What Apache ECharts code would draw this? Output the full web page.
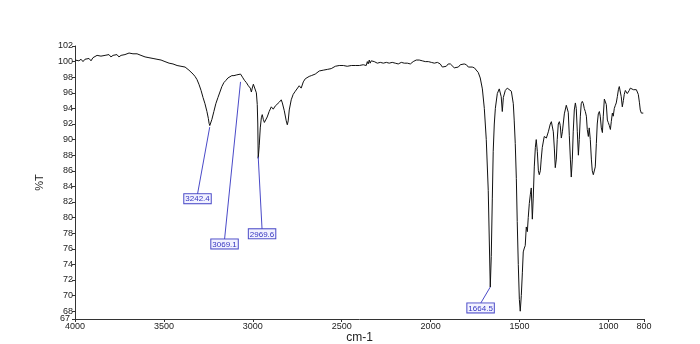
<!DOCTYPE html>
<html>
<head>
<meta charset="utf-8">
<script src="https://cdn.jsdelivr.net/npm/echarts@6/dist/echarts.min.js"></script>
<style>
  html, body { margin: 0; padding: 0; background: #fff; }
  #chart { width: 700px; height: 344px; }
</style>
</head>
<body>
<div id="chart"></div>
<script>
// spectrum (wavenumber in cm-1, transmittance in %T)
const wavenumbers = [
  4000, 3989, 3978, 3966, 3955, 3944, 3933, 3921, 3910, 3899, 3888, 3876, 3865, 3854, 3843, 3831,
  3820, 3809, 3798, 3786, 3775, 3764, 3753, 3741, 3730, 3719, 3708, 3696, 3685, 3674, 3663, 3651,
  3640, 3629, 3618, 3606, 3595, 3584, 3573, 3561, 3550, 3539, 3528, 3516, 3505, 3494, 3483, 3471,
  3460, 3449, 3438, 3426, 3415, 3404, 3393, 3381, 3370, 3359, 3348, 3336, 3325, 3314, 3303, 3291,
  3280, 3269, 3258, 3250, 3246, 3242, 3236, 3230, 3219, 3208, 3196, 3185, 3174, 3163, 3151, 3140,
  3129, 3118, 3106, 3090, 3080, 3069, 3058, 3047, 3036, 3025, 3014, 3008, 3003, 2997, 2991, 2986,
  2980, 2975, 2972, 2969.6, 2964, 2958, 2952, 2947, 2941, 2935, 2930, 2919, 2908, 2896, 2885, 2874,
  2863, 2851, 2840, 2834, 2823, 2812, 2806, 2801, 2795, 2784, 2773, 2761, 2750, 2739, 2728, 2716,
  2705, 2694, 2683, 2671, 2660, 2649, 2638, 2626, 2615, 2604, 2593, 2581, 2570, 2559, 2548, 2536,
  2525, 2514, 2503, 2491, 2480, 2469, 2458, 2446, 2435, 2424, 2413, 2401, 2390, 2379, 2368, 2362,
  2356, 2351, 2345, 2340, 2334, 2328, 2317, 2300, 2283, 2266, 2249, 2233, 2216, 2199, 2182, 2165,
  2148, 2131, 2114, 2098, 2081, 2064, 2047, 2030, 2013, 1996, 1979, 1962, 1946, 1934, 1923, 1912,
  1901, 1889, 1878, 1867, 1856, 1844, 1833, 1822, 1811, 1799, 1788, 1777, 1766, 1754, 1743, 1732,
  1721, 1709, 1698, 1687, 1676, 1670, 1664.5, 1659, 1653, 1648, 1642, 1636, 1625, 1614, 1608, 1603,
  1597, 1591, 1580, 1569, 1558, 1546, 1535, 1530, 1524, 1518, 1513, 1507, 1501, 1496, 1490, 1484,
  1479, 1473, 1468, 1462, 1456, 1451, 1445, 1439, 1434, 1428, 1423, 1417, 1411, 1406, 1400, 1394,
  1389, 1383, 1378, 1372, 1361, 1349, 1338, 1327, 1321, 1310, 1304, 1299, 1293, 1288, 1282, 1276,
  1271, 1265, 1259, 1248, 1237, 1231, 1226, 1220, 1214, 1209, 1203, 1198, 1192, 1186, 1181, 1175,
  1169, 1164, 1158, 1153, 1147, 1141, 1136, 1130, 1124, 1119, 1113, 1108, 1102, 1096, 1091, 1085,
  1079, 1074, 1068, 1063, 1057, 1051, 1046, 1040, 1034, 1029, 1023, 1018, 1012, 1006, 1001, 995,
  989, 984, 978, 973, 967, 961, 956, 950, 944, 939, 933, 928, 922, 916, 911, 905,
  899, 894, 888, 883, 877, 871, 866, 860, 854, 849, 843, 838, 832, 826, 821, 815,
  810, 804
];
const transmittance = [
  100.2, 100.4, 100.1, 100.3, 100.0, 100.3, 100.2, 100.4, 100.1, 100.5, 100.4, 100.8, 100.6, 100.7, 100.5, 100.8,
  100.6, 100.9, 100.6, 100.8, 100.7, 100.9, 100.6, 100.8, 100.7, 100.9, 100.8, 101.1, 100.9, 101.0, 100.8, 101.0,
  100.9, 100.8, 100.9, 100.6, 100.7, 100.5, 100.6, 100.4, 100.5, 100.3, 100.4, 100.2, 100.3, 100.0, 100.1, 99.8,
  99.9, 99.7, 99.8, 99.5, 99.6, 99.4, 99.5, 99.3, 99.1, 98.9, 98.7, 98.4, 98.1, 97.7, 97.1, 96.3,
  95.4, 94.6, 93.6, 92.7, 92.1, 91.8, 92.0, 92.6, 93.6, 94.6, 95.4, 96.1, 96.8, 97.3, 97.6, 97.9,
  98.1, 98.2, 98.2, 98.3, 98.5, 98.4, 98.0, 97.6, 97.3, 96.9, 96.6, 96.1, 96.6, 97.1, 97.2, 96.9,
  96.0, 94.5, 92.0, 87.6, 89.2, 91.5, 92.8, 93.2, 92.6, 92.2, 92.3, 92.9, 93.6, 94.2, 93.9, 94.3,
  94.5, 94.8, 95.1, 94.7, 93.7, 92.4, 91.9, 92.4, 93.8, 95.1, 95.8, 96.2, 96.4, 96.9, 96.6, 97.4,
  97.8, 97.9, 98.1, 98.2, 98.4, 98.4, 98.6, 98.8, 98.7, 98.9, 99.0, 99.0, 99.2, 99.1, 99.3, 99.4,
  99.4, 99.5, 99.6, 99.5, 99.6, 99.4, 99.4, 99.5, 99.4, 99.5, 99.6, 99.5, 99.7, 99.6, 99.8, 99.5,
  100.0, 99.7, 100.2, 99.8, 100.1, 99.9, 100.0, 99.8, 99.9, 99.8, 99.9, 99.8, 99.9, 99.8, 99.7, 99.9,
  99.8, 99.8, 99.7, 100.0, 100.2, 100.2, 100.1, 100.0, 100.0, 99.9, 99.8, 99.9, 99.7, 99.3, 99.1, 99.4,
  99.7, 99.7, 99.5, 99.2, 99.0, 99.3, 99.6, 99.7, 99.7, 99.6, 99.3, 99.2, 99.3, 99.2, 99.0, 98.6,
  97.9, 96.5, 94.0, 90.0, 83.5, 77.0, 71.1, 75.0, 82.5, 88.5, 92.0, 94.0, 95.9, 96.5, 96.4, 95.5,
  93.6, 95.4, 96.3, 96.6, 96.6, 96.2, 94.6, 92.5, 89.5, 85.0, 79.5, 74.0, 69.5, 68.0, 70.0, 73.0,
  75.6, 76.1, 76.4, 78.8, 78.2, 80.0, 81.8, 83.0, 83.8, 79.8, 82.5, 86.5, 89.0, 90.0, 88.5, 86.0,
  85.5, 86.0, 87.5, 89.0, 90.4, 90.2, 91.0, 92.0, 92.3, 91.0, 88.8, 86.4, 87.5, 90.0, 92.0, 92.3,
  91.8, 90.2, 91.0, 93.3, 94.4, 94.4, 93.5, 90.5, 87.5, 85.2, 87.5, 91.0, 93.8, 94.7, 94.0, 91.0,
  88.0, 90.0, 93.0, 94.6, 94.9, 94.6, 94.0, 93.6, 93.0, 91.3, 90.4, 91.5, 90.0, 87.5, 86.0, 85.5,
  85.3, 86.5, 89.5, 92.0, 93.3, 93.6, 93.0, 91.5, 90.9, 93.0, 95.2, 95.4, 94.5, 92.5, 92.2, 91.8,
  91.3, 92.3, 93.4, 93.0, 94.0, 94.4, 94.7, 95.5, 96.4, 96.8, 96.6, 95.5, 94.2, 95.0, 95.8, 96.3,
  96.4, 95.9, 95.8, 96.3, 96.6, 96.5, 96.6, 96.4, 96.5, 96.3, 96.4, 96.2, 95.8, 94.8, 93.8, 93.4,
  93.5, 93.4
];

// peak labels: where the leader starts and where its box sits
const peakLabels = ['3242.4', '3069.1', '2969.6', '1664.5'];
const peakX = [3242.4, 3069.1, 2969.6, 1664.5];
const peakY = [91.6, 97.4, 87.8, 71.1];
const boxX = [3311, 3159, 2948, 1719];
const boxY = [83.0, 77.2, 78.5, 69.0];

const xTicks = [4000, 3500, 3000, 2500, 2000, 1500, 1000, 800];
const yTicks = [67, 68, 70, 72, 74, 76, 78, 80, 82, 84, 86, 88, 90, 92, 94, 96, 98, 100, 102];
const yLabels = [68, 70, 72, 74, 76, 78, 80, 82, 84, 86, 88, 90, 92, 94, 96, 98, 100, 102];
const yMinLabel = [67];

const chart = echarts.init(document.getElementById('chart'));

const spectrum = wavenumbers.map((w, i) => [w, transmittance[i]]);
const peaks = peakLabels.map((t, i) => [peakX[i], peakY[i], boxX[i], boxY[i], t]);

const font = 'Liberation Sans, Arial, sans-serif';
const labelStyle = { color: '#222', fontSize: 9, fontFamily: font, hideOverlap: false, formatter: (v) => String(v) };

chart.setOption({
  animation: false,
  backgroundColor: '#fff',
  grid: { left: 75, right: 56, top: 46, bottom: 25, containLabel: false, outerBoundsMode: 'none' },
  xAxis: {
    type: 'value',
    inverse: true,
    min: 800,
    max: 4000,
    name: 'cm-1',
    nameLocation: 'middle',
    nameGap: 13,
    nameMoveOverlap: false,
    nameTextStyle: { color: '#222', fontSize: 12, fontFamily: font },
    axisLine: { lineStyle: { color: '#333', width: 1 } },
    axisTick: { show: true, length: 3, customValues: xTicks, lineStyle: { color: '#333' } },
    axisLabel: Object.assign({ customValues: xTicks, margin: 3 }, labelStyle),
    splitLine: { show: false }
  },
  yAxis: [
    {
      type: 'value',
      min: 67,
      max: 102,
      name: '%T',
      nameLocation: 'middle',
      nameGap: 30,
      nameRotate: 90,
      nameMoveOverlap: false,
      nameTextStyle: { color: '#222', fontSize: 11, fontFamily: font },
      axisLine: { show: true, lineStyle: { color: '#333', width: 1 } },
      axisTick: { show: true, length: 3, customValues: yTicks, lineStyle: { color: '#333' } },
      axisLabel: Object.assign({ customValues: yLabels, margin: 2 }, labelStyle),
      splitLine: { show: false }
    },
    {
      // second label layer only for the bottom "67", so it is not dropped beside "68"
      type: 'value',
      position: 'left',
      min: 67,
      max: 102,
      axisLine: { show: false },
      axisTick: { show: false },
      axisLabel: Object.assign({ customValues: yMinLabel, margin: 5 }, labelStyle),
      splitLine: { show: false }
    }
  ],
  series: [
    {
      type: 'line',
      data: spectrum,
      showSymbol: false,
      lineStyle: { color: '#111', width: 1 },
      z: 2
    },
    {
      type: 'custom',
      data: peaks,
      z: 3,
      renderItem: (params, api) => {
        const p = api.coord([api.value(0), api.value(1)]);
        const b = api.coord([api.value(2), api.value(3)]);
        return {
          type: 'group',
          children: [
            {
              type: 'line',
              shape: { x1: p[0], y1: p[1], x2: b[0], y2: b[1] },
              style: { stroke: '#4a4ac8', lineWidth: 1 }
            },
            {
              type: 'text',
              x: b[0],
              y: b[1],
              style: {
                text: peakLabels[params.dataIndex],
                fill: '#3535c0',
                font: '8px ' + font,
                align: 'center',
                verticalAlign: 'top',
                backgroundColor: '#f2f2ff',
                borderColor: '#4a4ac8',
                borderWidth: 1,
                padding: [1, 1, 0, 1]
              }
            }
          ]
        };
      }
    }
  ]
});
</script>
</body>
</html>
